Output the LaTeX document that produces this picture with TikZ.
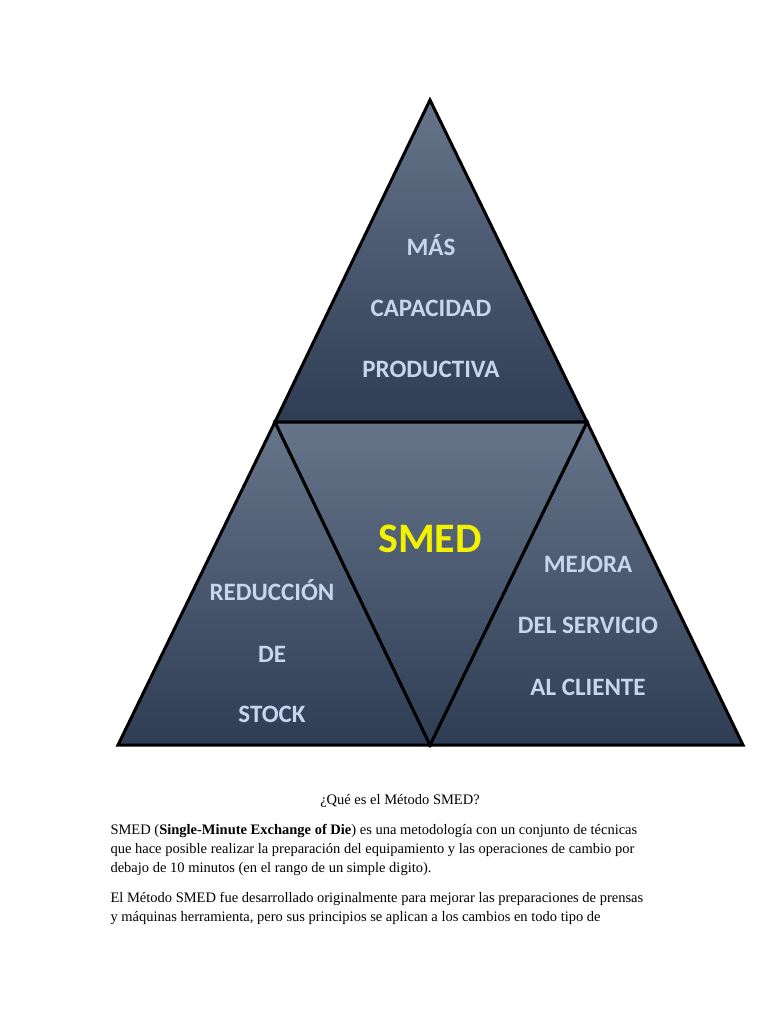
\documentclass[tikz,border=0pt]{standalone}
\usepackage{fontspec}
\setmainfont{Liberation Serif}
\newfontfamily\calib{Carlito}
\definecolor{tritop}{HTML}{66758A}
\definecolor{tribot}{HTML}{2E3C54}
\definecolor{lbl}{HTML}{C9D5EE}
\definecolor{smedy}{HTML}{F2F200}
\begin{document}
\begin{tikzpicture}[x=1pt,y=-1pt]
\tikzset{tri/.style={top color=tritop,bottom color=tribot,draw=black,line width=3pt,line join=miter},
lab/.style={font=\calib\bfseries\fontsize{25}{30}\selectfont,text=lbl,anchor=base},
body/.style={font=\fontsize{14.5}{19}\selectfont,anchor=base west}}
\useasboundingbox (0,0) rectangle (768,1024);
\fill[white] (0,0) rectangle (768,1024);
\coordinate (A) at (430,100);
\coordinate (L) at (275,422);
\coordinate (R) at (587,422);
\coordinate (BL) at (118,745);
\coordinate (BM) at (430,745);
\coordinate (BR) at (743,745);
\shade[tri] (A) -- (R) -- (L) -- cycle;
\shade[tri] (L) -- (BM) -- (BL) -- cycle;
\shade[tri] (R) -- (BR) -- (BM) -- cycle;
\shade[tri] (L) -- (R) -- (BM) -- cycle;
\node[lab] (t1) at (431,255) {MÁS};
\node[lab] (t2) at (431,316) {CAPACIDAD};
\node[lab] (t3) at (431,377) {PRODUCTIVA};
\node[lab,text=smedy,font=\calib\bfseries\fontsize{42}{48}\selectfont] (s) at (430,552) {SMED};
\node[lab] (l1) at (272,600) {REDUCCIÓN};
\node[lab] (l2) at (272,662) {DE};
\node[lab] (l3) at (272,722) {STOCK};
\node[lab] (r1) at (588,572) {MEJORA};
\node[lab] (r2) at (588,633) {DEL SERVICIO};
\node[lab] (r3) at (588,695) {AL CLIENTE};
\node[body,anchor=base] (q) at (400,804) {¿Qué es el Método SMED?};
\node[body] (p1) at (107,834) {SMED (\textbf{Single-Minute Exchange of Die}) es una metodología con un conjunto de técnicas};
\node[body] (p2) at (107,853) {que hace posible realizar la preparación del equipamiento y las operaciones de cambio por};
\node[body] (p3) at (107,872) {debajo de 10 minutos (en el rango de un simple digito).};
\node[body] (p4) at (107,902) {El Método SMED fue desarrollado originalmente para mejorar las preparaciones de prensas};
\node[body] (p5) at (107,921) {y máquinas herramienta, pero sus principios se aplican a los cambios en todo tipo de};
\end{tikzpicture}
\end{document}
